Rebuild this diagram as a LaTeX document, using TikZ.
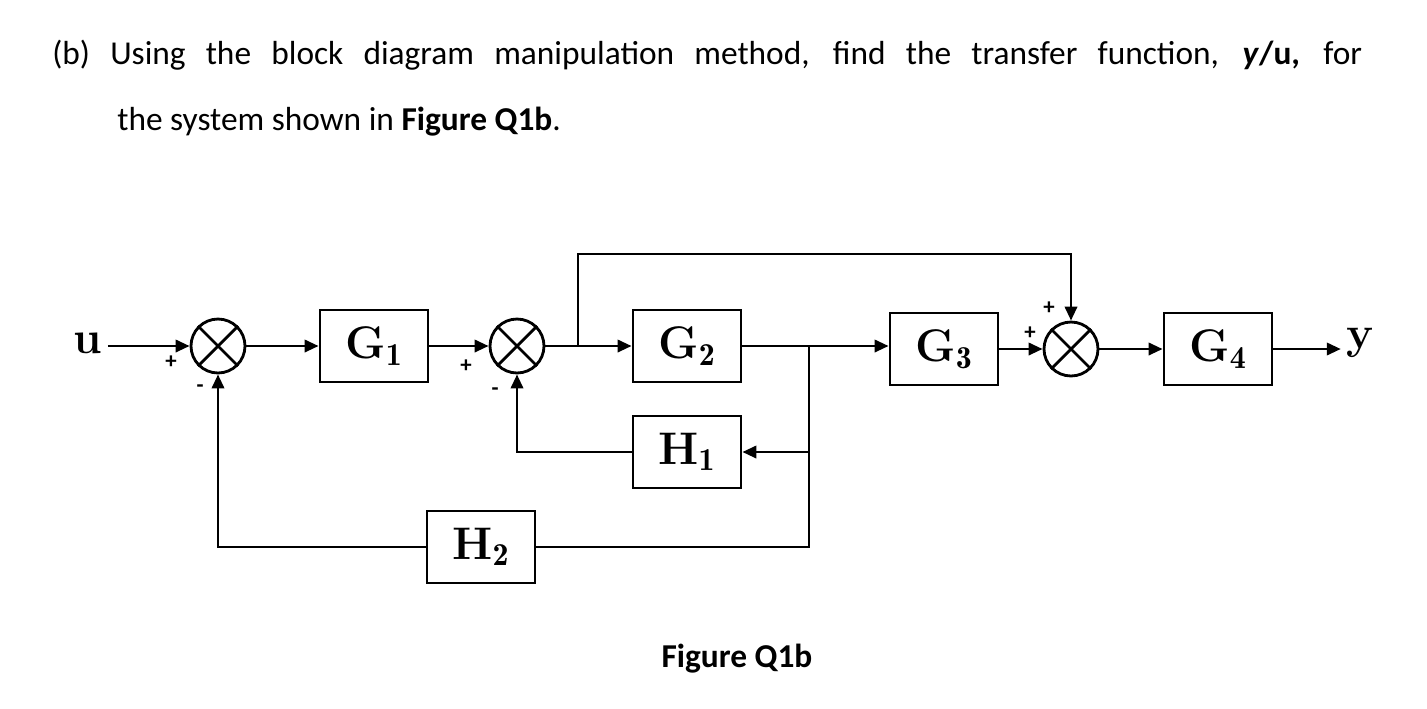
\documentclass[tikz,border=0pt]{standalone}
\usepackage{fontspec}
\newfontfamily\calib{Carlito}
\usetikzlibrary{arrows.meta}
\begin{document}
\begin{tikzpicture}[x=0.02cm,y=-0.02cm,
  blk/.style={draw,line width=1.6pt,minimum width=2.16cm,minimum height=1.44cm,inner sep=0pt,font=\fontsize{26}{30}\selectfont\bfseries},
  sj/.style={draw,circle,line width=1.6pt,minimum size=1.08cm,inner sep=0pt},
  ln/.style={line width=1.6pt},
  ar/.style={ln,-{Triangle[length=8pt,width=7pt]}},
  sg/.style={font=\calib\fontsize{13}{14}\selectfont\bfseries,inner sep=0pt},
  lb/.style={font=\fontsize{26}{30}\selectfont\bfseries,inner sep=3pt},
  txt/.style={font=\calib\fontsize{19}{22}\selectfont,inner sep=0pt,anchor=base west}]
\useasboundingbox (0,0) rectangle (1427,708);
\node[txt] (l1) at (52,64) {\makebox[26.2cm][s]{(b) Using the block diagram manipulation method, find the transfer function, \textbf{\textit{y}/u,} for}};
\node[txt] (l2) at (117,130) {the system shown in \textbf{Figure Q1b}.};
\node[txt,anchor=base] (cap) at (737,667) {\textbf{Figure Q1b}};

\node[lb] (u) at (88,343) {u};
\node[lb] (y) at (1360,343) {y};
\node[sj] (s1) at (218,346) {};
\node[sj] (s2) at (517,346) {};
\node[sj] (s3) at (1071,349) {};
\foreach \s in {s1,s2,s3}{
  \draw[line width=1.6pt] (\s.north west) -- (\s.south east) (\s.north east) -- (\s.south west);}
\node[blk] (g1) at (374,346) {G$_{\mathbf 1}$};
\node[blk] (g2) at (687,346) {G$_{\mathbf 2}$};
\node[blk] (g3) at (944,349) {G$_{\mathbf 3}$};
\node[blk] (g4) at (1218,349) {G$_{\mathbf 4}$};
\node[blk] (h1) at (687,452) {H$_{\mathbf 1}$};
\node[blk] (h2) at (481,547) {H$_{\mathbf 2}$};

\coordinate (b1) at (578,346);
\coordinate (b2) at (809,346);
\coordinate (c1) at (578,254);
\coordinate (c2) at (1071,254);
\coordinate (d1) at (809,452);
\coordinate (d2) at (809,547);
\coordinate (e1) at (517,452);
\coordinate (e2) at (218,547);
\draw[ar] (u.east |- s1) -- (s1);
\draw[ar] (s1) -- (g1);
\draw[ar] (g1) -- (s2);
\draw[ln] (s2) -- (b1);
\draw[ar] (b1) -- (g2);
\draw[ar] (b1) -- (c1) -- (c2) -- (s3);
\draw[ln] (g2.east) -- (b2);
\draw[ar] (b2) -- (g3.west|-b2);
\draw[ar] (b2) -- (d1) -- (h1);
\draw[ln] (d1) -- (d2) -- (h2);
\draw[ar] (h1) -- (e1) -- (s2);
\draw[ar] (h2) -- (e2) -- (s1);
\draw[ar] (g3) -- (s3);
\draw[ar] (s3) -- (g4);
\draw[ar] (g4) -- (y.west |- g4);

\node[sg] (p1) at (171,362) {+};
\node[sg] (m1) at (200,389) {-};
\node[sg] (p2) at (466,366) {+};
\node[sg] (m2) at (495,392) {-};
\node[sg] (p3) at (1049,308) {+};
\node[sg] (p4) at (1030,333) {+};
\end{tikzpicture}
\end{document}
